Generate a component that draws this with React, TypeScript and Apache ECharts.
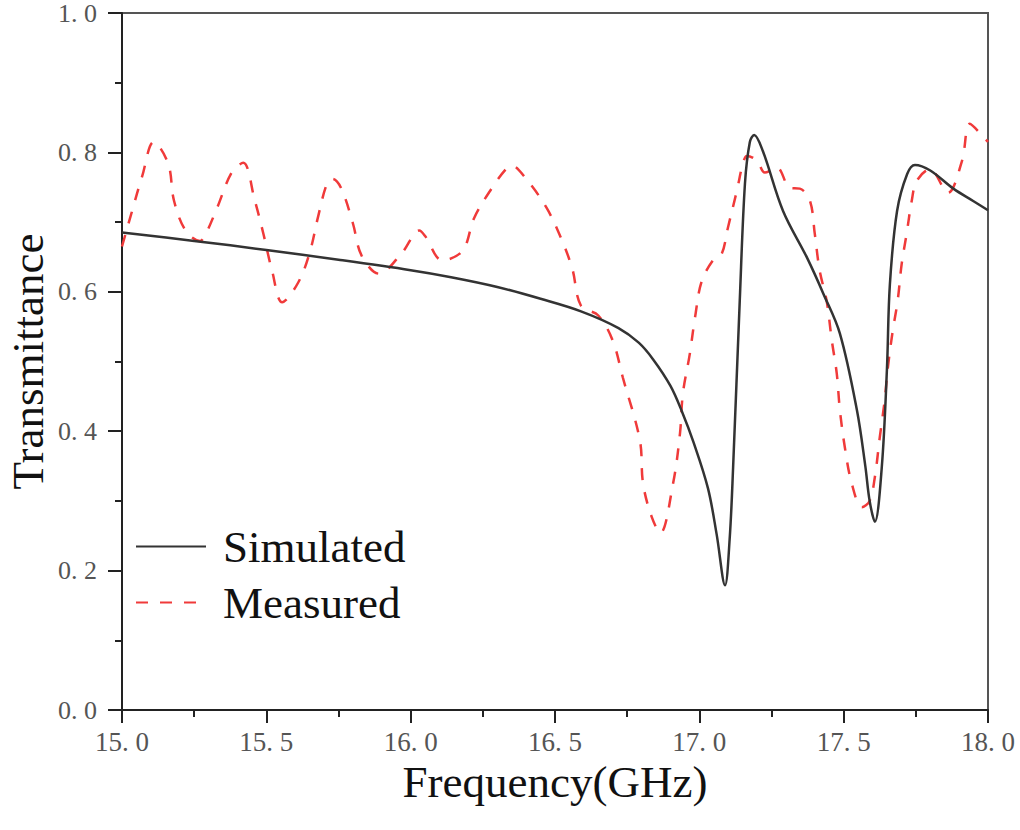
import React, { useEffect, useRef } from "react";
import * as echarts from "echarts";

const simFreq = [15.0, 15.25, 15.5, 15.75, 16.0, 16.14, 16.3, 16.45, 16.59, 16.72, 16.79, 16.84, 16.9, 16.94, 16.98, 17.03, 17.06, 17.089, 17.105, 17.117, 17.14, 17.158, 17.175, 17.19, 17.22, 17.29, 17.373, 17.43, 17.487, 17.546, 17.575, 17.59, 17.608, 17.632, 17.65, 17.66, 17.685, 17.72, 17.747, 17.8, 17.88, 17.95, 18.0];
const simValue = [0.685, 0.673, 0.66, 0.646, 0.631, 0.621, 0.607, 0.59, 0.572, 0.548, 0.527, 0.503, 0.465, 0.428, 0.384, 0.318, 0.252, 0.179, 0.245, 0.348, 0.587, 0.755, 0.815, 0.825, 0.802, 0.716, 0.649, 0.597, 0.54, 0.43, 0.35, 0.3, 0.27, 0.348, 0.49, 0.61, 0.716, 0.769, 0.782, 0.774, 0.748, 0.73, 0.717];

const measFreq = [15.0, 15.035, 15.07, 15.11, 15.16, 15.18, 15.22, 15.27, 15.29, 15.33, 15.38, 15.42, 15.46, 15.49, 15.52, 15.555, 15.61, 15.65, 15.68, 15.71, 15.73, 15.76, 15.8, 15.83, 15.89, 15.97, 16.03, 16.05, 16.11, 16.18, 16.22, 16.28, 16.33, 16.35, 16.4, 16.47, 16.52, 16.56, 16.59, 16.65, 16.7, 16.735, 16.794, 16.805, 16.835, 16.865, 16.909, 16.933, 16.943, 16.967, 16.985, 17.009, 17.054, 17.078, 17.099, 17.13, 17.151, 17.165, 17.2, 17.227, 17.269, 17.314, 17.348, 17.383, 17.4, 17.417, 17.441, 17.459, 17.476, 17.487, 17.504, 17.528, 17.563, 17.59, 17.608, 17.625, 17.642, 17.653, 17.67, 17.687, 17.701, 17.718, 17.736, 17.753, 17.799, 17.861, 17.91, 17.937, 17.98, 18.0];
const measValue = [0.665, 0.716, 0.766, 0.815, 0.784, 0.731, 0.688, 0.673, 0.683, 0.721, 0.771, 0.785, 0.731, 0.683, 0.63, 0.585, 0.613, 0.656, 0.709, 0.755, 0.762, 0.748, 0.698, 0.652, 0.626, 0.656, 0.688, 0.68, 0.645, 0.659, 0.706, 0.748, 0.776, 0.781, 0.762, 0.721, 0.678, 0.633, 0.58, 0.566, 0.53, 0.477, 0.387, 0.325, 0.277, 0.254, 0.325, 0.397, 0.454, 0.511, 0.563, 0.616, 0.649, 0.655, 0.692, 0.745, 0.784, 0.795, 0.788, 0.771, 0.778, 0.749, 0.748, 0.731, 0.683, 0.63, 0.587, 0.53, 0.483, 0.43, 0.377, 0.325, 0.291, 0.3, 0.334, 0.391, 0.444, 0.491, 0.544, 0.587, 0.64, 0.683, 0.731, 0.759, 0.776, 0.742, 0.788, 0.841, 0.824, 0.815];

const seriesNames = ["Simulated", "Measured"];
const xTitle = "Frequency(GHz)";
const yTitle = "Transmittance";

const fmt = (v: number) => v.toFixed(1).replace(".", ". ");

export default function App() {
  const ref = useRef<HTMLDivElement>(null);
  useEffect(() => {
    if (!ref.current) return;
    const chart = echarts.init(ref.current, null, { renderer: "svg" });
    const sim = simFreq.map((f, i) => [f, simValue[i]]);
    const meas = measFreq.map((f, i) => [f, measValue[i]]);
    const serif = "Liberation Serif";
    chart.setOption({
      animation: false,
      backgroundColor: "#ffffff",
      grid: {
        left: 122,
        right: 32,
        top: 13,
        bottom: 120,
        show: true,
        borderColor: "#555",
        borderWidth: 2,
        containLabel: false,
        outerBoundsMode: "none",
      },
      legend: {
        orient: "vertical",
        left: 130,
        top: 519,
        itemWidth: 70,
        itemHeight: 14,
        itemGap: 11,
        data: seriesNames,
        itemStyle: { color: "transparent", borderWidth: 0, opacity: 0 },
        textStyle: {
          fontFamily: serif,
          fontSize: 45,
          lineHeight: 45,
          color: "#111",
          padding: [0, 0, 0, 12],
        },
      },
      xAxis: {
        type: "value",
        min: 15,
        max: 18,
        interval: 0.5,
        name: xTitle,
        nameLocation: "middle",
        nameGap: 54,
        nameMoveOverlap: false,
        nameTextStyle: { fontFamily: serif, fontSize: 45, color: "#111", lineHeight: 36 },
        axisLine: { show: true, lineStyle: { color: "#222", width: 2 } },
        axisTick: { show: true, inside: false, length: 13, lineStyle: { color: "#222", width: 2 } },
        minorTick: { show: true, splitNumber: 2, length: 7, lineStyle: { color: "#222", width: 2 } },
        splitLine: { show: false },
        axisLabel: {
          formatter: fmt,
          fontFamily: serif,
          fontSize: 27,
          lineHeight: 24,
          color: "#555",
          margin: 20,
        },
      },
      yAxis: {
        type: "value",
        min: 0,
        max: 1,
        interval: 0.2,
        name: yTitle,
        nameLocation: "middle",
        nameGap: 74,
        nameMoveOverlap: false,
        nameTextStyle: { fontFamily: serif, fontSize: 45, color: "#111", lineHeight: 40 },
        axisLine: { show: true, lineStyle: { color: "#222", width: 2 } },
        axisTick: { show: true, inside: false, length: 14, lineStyle: { color: "#222", width: 2 } },
        minorTick: { show: true, splitNumber: 2, length: 7, lineStyle: { color: "#222", width: 2 } },
        splitLine: { show: false },
        axisLabel: {
          formatter: fmt,
          fontFamily: serif,
          fontSize: 26,
          lineHeight: 22,
          color: "#555",
          margin: 25,
        },
      },
      series: [
        {
          name: seriesNames[0],
          type: "line",
          data: sim,
          symbol: "none",
          smooth: 0.35,
          lineStyle: { color: "#333", width: 2.5, type: "solid" },
          itemStyle: { color: "#333" },
          z: 3,
        },
        {
          name: seriesNames[1],
          type: "line",
          data: meas,
          symbol: "none",
          smooth: 0.35,
          lineStyle: { color: "#f03a3a", width: 2.5, type: [12, 12] },
          itemStyle: { color: "#f03a3a" },
          z: 2,
        },
      ],
    });
    return () => chart.dispose();
  }, []);
  return (
    <div
      ref={ref}
      style={{ position: "fixed", left: 0, top: 0, width: 1020, height: 830, background: "#fff" }}
    />
  );
}
